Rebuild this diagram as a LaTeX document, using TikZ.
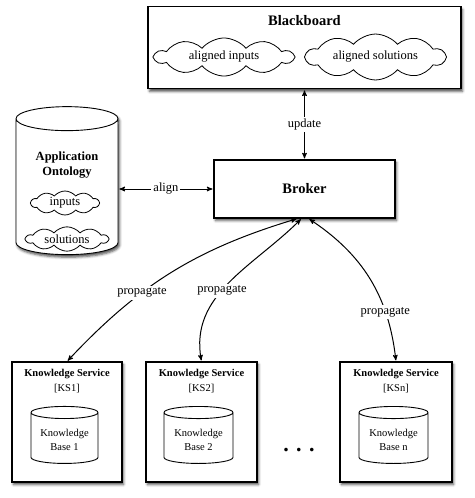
\documentclass[tikz,border=0pt]{standalone}
\usepackage{fontspec}
\setmainfont{Liberation Serif}
\usetikzlibrary{arrows,shapes,shadows,shadows.blur,positioning}
\tikzstyle{bx} = [rectangle, draw, fill=white, line width=1.1pt,
    blur shadow={shadow xshift=1.5pt, shadow yshift=-2.5pt, shadow blur radius=2.5pt, shadow opacity=70}]
\tikzstyle{cl} = [cloud, draw, cloud puffs=10, cloud puff arc=100, aspect=4,
    inner sep=0pt, line width=0.8pt]
\tikzstyle{db} = [cylinder, shape border rotate=90, draw, fill=white, line width=0.9pt]
\tikzstyle{lbl} = [fill=white, inner sep=2pt]

\begin{document}
\begin{tikzpicture}[<->,>=stealth',shorten >=1pt,shorten <=1pt,line width=1pt,
                    x=1pt,y=1pt,font=\fontsize{12.5}{15}\selectfont]
  \useasboundingbox (0,0) rectangle (474,-498);

  \node[bx, minimum width=181pt, minimum height=58pt] (broker) at (304.5,-189)
       {\fontsize{14.5}{17}\selectfont\bfseries Broker};
  \node[bx, minimum width=313pt, minimum height=82pt] (bb) [above=70pt of broker] {};
  \node[font=\fontsize{14.5}{17}\selectfont\bfseries] (bbt) at ([yshift=-14pt]bb.north) {Blackboard};
  \node[cl, minimum width=138pt, minimum height=35pt] (ain) at (224,-57) {aligned inputs};
  \node[cl, minimum width=139pt, minimum height=35pt] (asol) at (375.5,-57) {aligned solutions};

  \node[db, aspect=3.6, minimum width=102pt, minimum height=148pt,
        blur shadow={shadow xshift=1.5pt, shadow yshift=-2.5pt, shadow blur radius=2.5pt, shadow opacity=70}]
       (onto) at (67,-189) {};
  \node[font=\fontsize{12.5}{15}\selectfont\bfseries, align=center] (ontot) at (67,-165)
       {Application\\Ontology};
  \node[cl, minimum width=68pt, minimum height=24pt] (inp) at (65,-203) {inputs};
  \node[cl, minimum width=82pt, minimum height=24pt] (sol) at (67,-239) {solutions};

  \node[bx, minimum width=110pt, minimum height=120pt] (ks1) at (67,-422) {};
  \node[bx, minimum width=111pt, minimum height=120pt] (ks2) at (201.5,-422) {};
  \node[bx, minimum width=112pt, minimum height=120pt] (ksn) at (396,-422) {};

  \node[font=\fontsize{10.5}{15}\selectfont, align=center] (ks1t) at (67,-381)
       {\textbf{Knowledge Service}\\{[KS1]}};
  \node[font=\fontsize{10.5}{15}\selectfont, align=center] (ks2t) at (201.5,-381)
       {\textbf{Knowledge Service}\\{[KS2]}};
  \node[font=\fontsize{10.5}{15}\selectfont, align=center] (ksnt) at (396,-381)
       {\textbf{Knowledge Service}\\{[KSn]}};

  \node[db, aspect=0.22, minimum width=67pt, minimum height=57pt, align=center,
        font=\fontsize{10.5}{14}\selectfont] (kb1) at (64.5,-439.5) {Knowledge\\Base 1};
  \node[db, aspect=0.22, minimum width=69pt, minimum height=57pt, align=center,
        font=\fontsize{10.5}{14}\selectfont] (kb2) at (198.5,-439.5) {Knowledge\\Base 2};
  \node[db, aspect=0.22, minimum width=69pt, minimum height=57pt, align=center,
        font=\fontsize{10.5}{14}\selectfont] (kbn) at (393.5,-439.5) {Knowledge\\Base n};

  \node[font=\fontsize{22}{22}\selectfont\bfseries, anchor=base] (dots) at (299,-451) {.\,\,.\,\,.};

  \path (bb) edge node[lbl] {update} (broker)
  (onto) edge node[lbl] {align} (broker)
  ([xshift=-7pt]broker.south) edge[bend right=15] node[lbl, pos=0.64] {propagate} (ks1.north)
  ([xshift=-3pt]broker.south) edge[out=225, in=100] node[lbl, pos=0.56] {propagate} (ks2.north)
  ([xshift=4pt]broker.south) edge[bend left=25] node[lbl, pos=0.72] {propagate} (ksn.north);
\end{tikzpicture}
\end{document}
